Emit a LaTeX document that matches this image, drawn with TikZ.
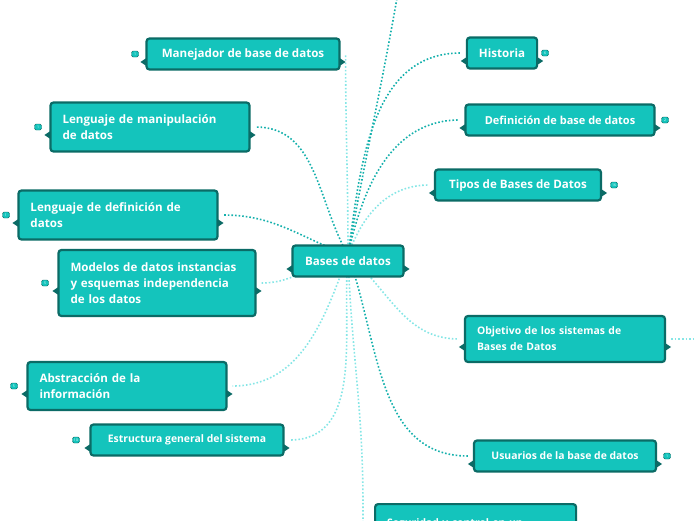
\documentclass[tikz,border=0pt]{standalone}
\usepackage{fontspec}
\setmainfont{Open Sans}
\usetikzlibrary{backgrounds}
\begin{document}
\begin{tikzpicture}[x=1pt,y=-1pt,
  box/.style={draw=boxline,line width=2.2pt,fill=boxfill,rounded corners=3pt,text=white,font=\bfseries\fontsize{11.6}{16}\selectfont,inner xsep=12pt,inner ysep=0pt,minimum height=31pt},
  badge/.style={fill=boxfill,draw=boxline,line width=0.4pt,rounded corners=1.5pt,text=white,font=\fontsize{3.5}{4}\selectfont,inner sep=1pt,minimum width=7pt,minimum height=6pt},
  lk/.style={dotted,line width=1.6pt,draw=dark},
  ll/.style={dotted,line width=1.6pt,draw=light}]
\definecolor{boxfill}{HTML}{14C4BC}
\definecolor{boxline}{HTML}{0B6B66}
\definecolor{dark}{HTML}{14B0AC}
\definecolor{light}{HTML}{86E6E6}
\useasboundingbox (0,0) rectangle (696,520);
\begin{scope}
\clip (0,0) rectangle (696,520);
\coordinate (c) at (348,255);
\coordinate (top) at (397,-2);
\coordinate (offr) at (700,339);
% nodes
\node[box,minimum width=193pt] (man) at (243,54) {Manejador de base de datos};
\node[box,minimum width=69pt] (his) at (502,53) {Historia};
\node[box,text width=175pt,align=left,minimum height=49pt] (lmd) at (150,127) {Lenguaje de manipulación\\de datos};
\node[box,minimum width=189pt,font=\bfseries\fontsize{11}{14}\selectfont] (def) at (560,120) {Definición de base de datos};
\node[box,minimum width=166pt] (tip) at (518,185) {Tipos de Bases de Datos};
\node[box,text width=175pt,align=left,minimum height=49pt] (ldd) at (118,215) {Lenguaje de definición de\\datos};
\node[box,minimum width=111pt] (bd) at (348,261) {Bases de datos};
\node[box,text width=173pt,align=left,minimum height=66pt] (mod) at (157,283) {Modelos de datos instancias\\y esquemas independencia\\de los datos};
\node[box,text width=176pt,align=left,minimum height=46pt,font=\bfseries\fontsize{10.4}{16}\selectfont] (obj) at (565,339) {Objetivo de los sistemas de\\Bases de Datos};
\node[box,text width=175pt,align=left,minimum height=48pt] (abs) at (127,386) {Abstracción de la\\información};
\node[box,minimum width=193pt,font=\bfseries\fontsize{10.4}{12}\selectfont] (est) at (187,440) {Estructura general del sistema};
\node[box,minimum width=182pt,font=\bfseries\fontsize{10.4}{12}\selectfont] (usu) at (565,456) {Usuarios de la base de datos};
\node[box,text width=177pt,align=left,minimum height=40pt,anchor=north west,font=\bfseries\fontsize{10.4}{12}\selectfont] (seg) at (374,503) {Seguridad y control en un\\};
% connectors
\begin{scope}[on background layer]
\draw[ll] (c) to[out=90,in=-90] ([xshift=5pt]man.east);
\draw[lk] (c) to[out=80,in=-100] (top);
\draw[lk] (c) to[out=120,in=0] ([xshift=5pt]lmd.east);
\draw[lk] (c) to[out=160,in=0] ([xshift=5pt]ldd.east);
\draw[ll] (c) to[out=190,in=0] ([xshift=5pt]mod.east);
\draw[ll] (c) to[out=250,in=0] ([xshift=5pt]abs.east);
\draw[ll] (c) to[out=265,in=0] ([xshift=5pt]est.east);
\draw[ll] (c) to[out=272,in=90] (363,505) -- (363,525);
\draw[lk] (c) to[out=290,in=180] ([xshift=-5pt]usu.west);
\draw[ll] (c) to[out=320,in=180] ([xshift=-5pt]obj.west);
\draw[ll] ([xshift=5pt]obj.east) -- (offr);
\draw[ll] (c) to[out=70,in=180] ([xshift=-5pt]tip.west);
\draw[lk] (c) to[out=78,in=180] ([xshift=-5pt]def.west);
\draw[lk] (c) to[out=82,in=180] ([xshift=-5pt]his.west);
\end{scope}
% notches
\foreach \n in {man,his,lmd,def,tip,ldd,bd,mod,obj,abs,est,usu}{
  \fill[boxline] ([xshift=-1pt,yshift=-4pt]\n.east) -- ++(6,4) -- ++(-6,4) -- cycle;
  \fill[boxline] ([xshift=1pt,yshift=-4pt]\n.west) -- ++(-6,4) -- ++(6,4) -- cycle;
}
\node[badge] (b1) at (135,54) {1};
\node[badge] (b2) at (545,53) {6};
\node[badge] (b3) at (38,127) {1};
\node[badge] (b4) at (665,120) {2};
\node[badge] (b5) at (614,185) {16};
\node[badge] (b6) at (6,215) {1};
\node[badge] (b7) at (45,283) {5};
\node[badge] (b8) at (14,386) {5};
\node[badge] (b9) at (76,440) {10};
\node[badge] (b10) at (667,456) {1};
\end{scope}
\end{tikzpicture}
\end{document}
